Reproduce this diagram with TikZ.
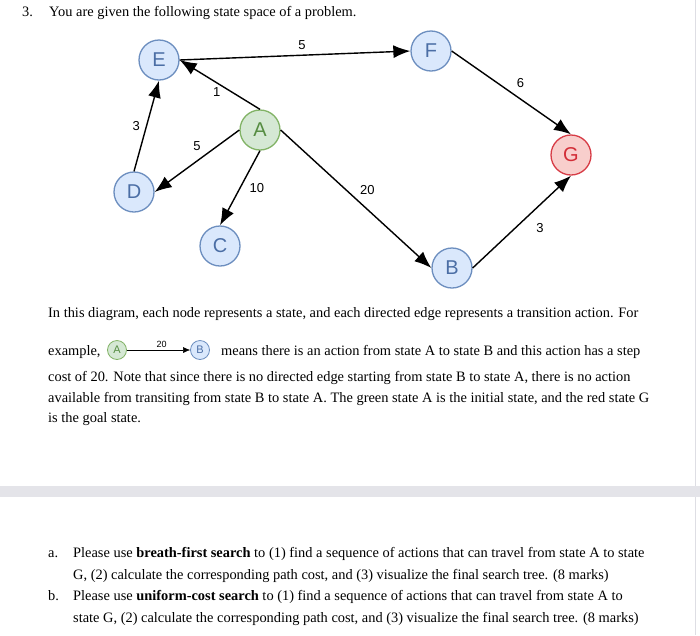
\documentclass[tikz,border=0pt]{standalone}
\usepackage{fontspec}
\setmainfont{Liberation Serif}
\newfontfamily\statefont{Liberation Sans}
\usetikzlibrary{arrows.meta,positioning,calc}
\definecolor{StateFill}{RGB}{218,232,252}
\definecolor{StateLine}{RGB}{108,142,191}
\definecolor{StateText}{RGB}{75,110,165}
\definecolor{StartFill}{RGB}{213,232,212}
\definecolor{StartLine}{RGB}{130,179,102}
\definecolor{StartText}{RGB}{85,140,65}
\definecolor{GoalFill}{RGB}{248,206,204}
\definecolor{GoalLine}{RGB}{215,60,70}
\definecolor{GoalText}{RGB}{210,45,55}
\definecolor{Band}{RGB}{228,228,233}
\definecolor{Edge}{RGB}{222,222,228}

\tikzset{
  state/.style={circle,draw=StateLine,fill=StateFill,text=StateText,line width=1.3pt,
    minimum size=40pt,inner sep=0pt,font=\statefont\fontsize{20}{20}\selectfont},
  start/.style={state,draw=StartLine,fill=StartFill,text=StartText},
  goal/.style={state,draw=GoalLine,fill=GoalFill,text=GoalText},
  small state/.style={minimum size=19pt,line width=0.8pt,font=\statefont\fontsize{11}{11}\selectfont},
  trans/.style={-{Latex[length=17pt,width=13pt]},line width=1.4pt},
  cost/.style={font=\statefont\fontsize{13}{13}\selectfont,inner sep=2pt},
  body/.style={anchor=base west,inner sep=0pt,font=\fontsize{14.4}{17}\selectfont}
}

\begin{document}
\begin{tikzpicture}[x=1pt,y=-1pt]
  \useasboundingbox (0,0) rectangle (700,635);
  % page edges
  \fill[Band] (0,486) rectangle (700,497);
  \draw[Edge,line width=1pt] (695,0) -- (695,486);
  \draw[Edge,line width=1pt] (695,497) -- (695,635);

  % question
  \node[body] (num) at (22,16) {3.};
  \node[body] (intro) at (49,16) {You are given the following state space of a problem.};

  % state space
  \node[state] (E) at (159,60) {E};
  \node[state] (F) at (431,51) {F};
  \node[start] (A) at (260,130) {A};
  \node[goal]  (G) at (571,155) {G};
  \node[state] (D) at (134,192) {D};
  \node[state] (C) at (220,246) {C};
  \node[state] (B) at (452,268) {B};

  \draw[trans] (E.east) -- (F.west) node[cost,pos=0.53,above=3pt] {5};
  \draw[trans] (A.north) -- (E.east) node[cost,pos=0.54,below=2pt] {1};
  \draw[trans] (D.north) -- (E.south) node[cost,midway,left=4pt] {3};
  \draw[trans] (A.west) -- (D.east) node[cost,midway,above=8pt] {5};
  \draw[trans] (A.south) -- (C.north) node[cost,midway,right=7pt] {10};
  \draw[trans] (A.east) -- (B.west) node[cost,midway,above right=2pt] {20};
  \draw[trans] (F.east) -- (G.north) node[cost,midway,above right=4pt] {6};
  \draw[trans] (B.east) -- (G.south) node[cost,pos=0.6,below right=8pt and 2pt] {3};

  % explanation
  \node[body] (p1) at (48,317) {In this diagram, each node represents a state, and each directed edge represents a transition action. For};
  \node[body] (p2) at (48,355) {example,};
  \node[start,small state] (eA) at (117,350) {A};
  \node[state,small state] (eB) at (200,350) {B};
  \draw[-{Latex[length=7pt,width=6pt]},line width=0.5pt] (eA) -- (eB) node[cost,pos=0.55,above=0pt,font=\statefont\fontsize{9}{9}\selectfont] {20};
  \node[body] (p2b) at (221,355) {means there is an action from state A to state B and this action has a step};
  \node[body] (p3) at (48,381) {cost of 20. Note that since there is no directed edge starting from state B to state A, there is no action};
  \node[body] (p4) at (48,402) {available from transiting from state B to state A. The green state A is the initial state, and the red state G};
  \node[body] (p5) at (48,422) {is the goal state.};

  % tasks
  \node[body] (qa) at (48,557) {a.};
  \node[body] (qa1) at (73,557) {Please use \textbf{breath-first search} to (1) find a sequence of actions that can travel from state A to state};
  \node[body] (qa2) at (73,579) {G, (2) calculate the corresponding path cost, and (3) visualize the final search tree. (8 marks)};
  \node[body] (qb) at (48,600) {b.};
  \node[body] (qb1) at (73,600) {Please use \textbf{uniform-cost search} to (1) find a sequence of actions that can travel from state A to};
  \node[body] (qb2) at (73,622) {state G, (2) calculate the corresponding path cost, and (3) visualize the final search tree. (8 marks)};
\end{tikzpicture}
\end{document}
